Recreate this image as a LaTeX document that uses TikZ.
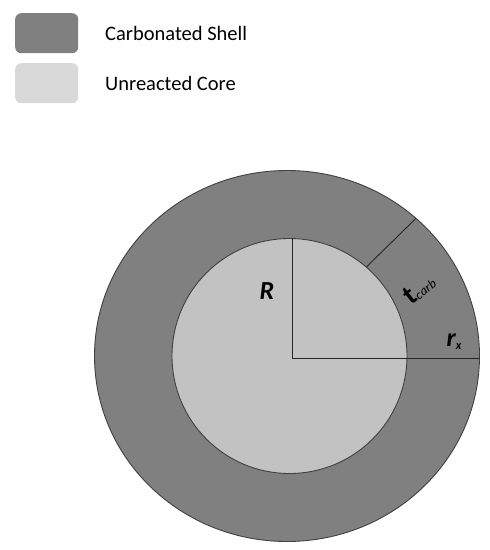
\documentclass[tikz,border=0pt]{standalone}
\usepackage{fontspec}
\setmainfont{Carlito}
\begin{document}
\begin{tikzpicture}[x=1pt,y=-1pt,
  legendbox/.style={rounded corners=6pt, minimum width=63pt, minimum height=40pt, inner sep=0pt, draw=none},
  legendtext/.style={anchor=west, font=\fontsize{20.5}{20.5}\selectfont, inner sep=0pt},
  radline/.style={draw=black!85, line width=0.9pt},
  sym/.style={font=\fontsize{26}{26}\selectfont\bfseries\itshape, inner sep=0pt}]
\useasboundingbox (0,0) rectangle (490,550);
\definecolor{shell}{HTML}{808080}
\definecolor{core}{HTML}{C2C2C2}
\definecolor{corelegend}{HTML}{D9D9D9}
% legend
\node[legendbox, fill=shell, anchor=north west] (lb1) at (15,13) {};
\node[legendbox, fill=corelegend, anchor=north west] (lb2) at (15,63) {};
\node[legendtext] (lt1) at (105,33) {Carbonated Shell};
\node[legendtext] (lt2) at (105,83) {Unreacted Core};
% particle
\fill[shell, draw=black!75, line width=0.9pt] (287,356) ellipse [x radius=192.5, y radius=185.5];
\fill[core, draw=black!75, line width=0.9pt] (289.5,356) circle [radius=117.5];
\coordinate (c) at (292,358);
\coordinate (top) at (292,237.5);
\coordinate (right) at (479.5,358);
\coordinate (d1) at (366.7,266.7);
\coordinate (d2) at (416,218.3);
\draw[radline] (top) -- (c) -- (right);
\draw[radline] (d1) -- (d2);
% labels
\node[sym] (R) at (267,291) {R};
\node[inner sep=0pt, rotate=38] (t) at (419,289) {{\fontsize{28}{28}\selectfont\bfseries t}{\fontsize{13}{13}\selectfont\itshape carb}};
\node[inner sep=0pt] (rx) at (454,342) {{\fontsize{26}{26}\selectfont\bfseries\itshape r}\raisebox{-3pt}{\fontsize{12}{12}\selectfont\bfseries\itshape x}};
\end{tikzpicture}
\end{document}
